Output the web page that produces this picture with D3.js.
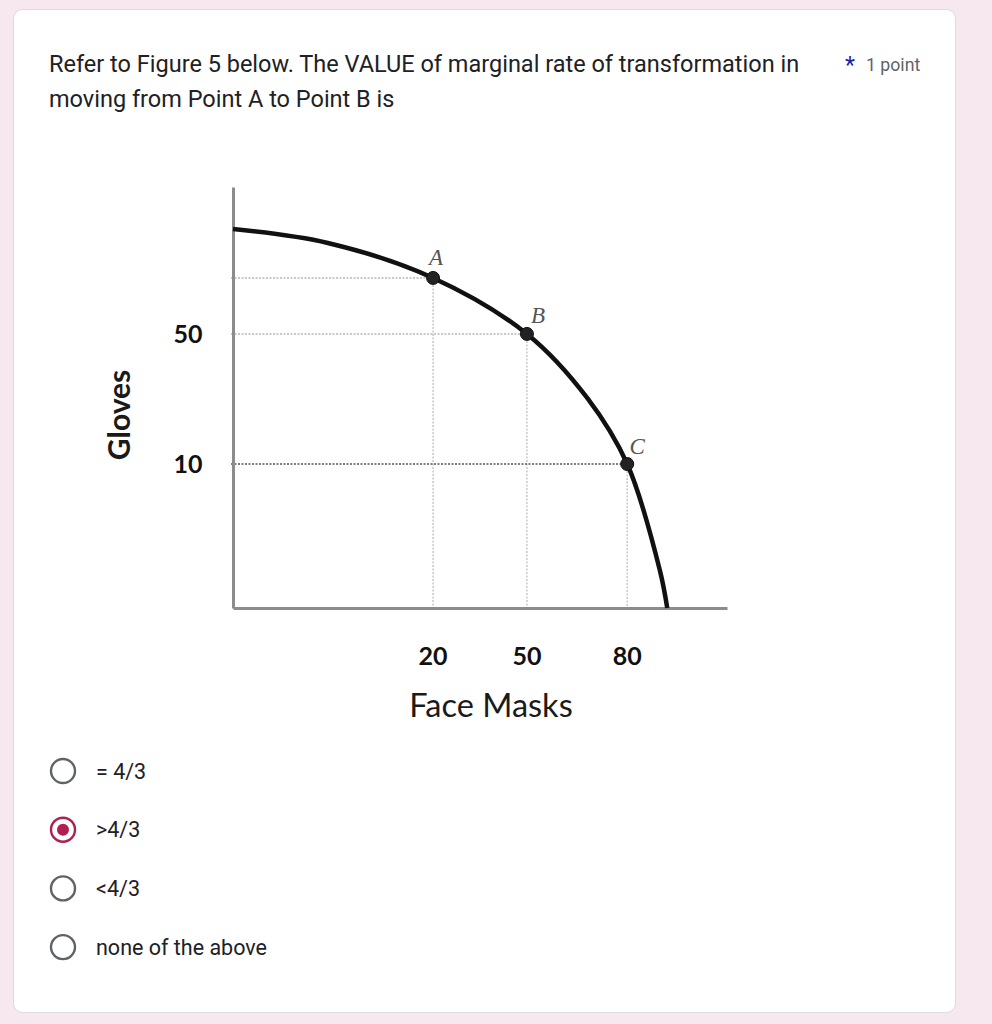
<!DOCTYPE html>
<html>
<head>
<meta charset="utf-8">
<script src="https://cdn.jsdelivr.net/npm/d3@7"></script>
<style>
  html, body { margin: 0; padding: 0; background: #f6e8ee; }
  svg { display: block; }
</style>
</head>
<body>
<svg id="page" width="992" height="1024"></svg>
<script>
// ---- data (figure units: both axes run 0..100 along the drawn axes) ----
const curveX = [0, 19.2, 40.5, 59.5, 71.7, 79.8, 86.4, 87.9];
const curveY = [90.0, 86.7, 78.4, 65.1, 49.9, 34.2, 9.0, 0];
const pointNames = ["A", "B", "C"];
const pointX = [40.5, 59.5, 79.8];
const pointY = [78.4, 65.1, 34.2];
const xTickLabels = ["20", "50", "80"];   // at A, B, C
const yTickLabels = ["", "50", "10"];     // at A, B, C
const xAxisTitle = "Face Masks";
const yAxisTitle = "Gloves";
const questionLines = ["Refer to Figure 5 below. The VALUE of marginal rate of transformation in",
                       "moving from Point A to Point B is"];
const pointsText = "1 point";
const options = ["= 4/3", ">4/3", "<4/3", "none of the above"];
const selectedOption = 1;

// ---- page ----
const svg = d3.select("#page");
svg.append("rect").attr("x", 13.5).attr("y", 9.5).attr("width", 942).attr("height", 1003)
  .attr("rx", 9).attr("fill", "#fff").attr("stroke", "#dadce0").attr("stroke-width", 1);

const title = svg.append("g").attr("font-family", "Roboto").attr("font-size", 23.5).attr("fill", "#202124");
questionLines.forEach((t, i) => {
  title.append("text").attr("x", 49).attr("y", 72 + i * 35).text(t);
});
svg.append("text").attr("x", 845).attr("y", 73).attr("font-family", "Roboto").attr("font-size", 23)
  .attr("fill", "#1a1ea8").text("*");
svg.append("text").attr("x", 866).attr("y", 71).attr("font-family", "Roboto").attr("font-size", 17.7)
  .attr("fill", "#5f6368").text(pointsText);

// ---- chart ----
const x = d3.scaleLinear().domain([0, 100]).range([233, 727]);
const y = d3.scaleLinear().domain([0, 100]).range([608, 187]);
const chart = svg.append("g");

// guide lines
pointX.forEach((px, i) => {
  chart.append("line").attr("x1", x(0) - 2).attr("x2", x(px)).attr("y1", y(pointY[i])).attr("y2", y(pointY[i]))
    .attr("stroke", i === 2 ? "#555" : "#b5b5b5").attr("stroke-width", 1.4).attr("stroke-dasharray", "2,1.5");
  chart.append("line").attr("x1", x(px)).attr("x2", x(px)).attr("y1", y(pointY[i])).attr("y2", y(0))
    .attr("stroke", "#c4c4c4").attr("stroke-width", 1.4).attr("stroke-dasharray", "2,1.5");
});

// axes
const xAxis = d3.axisBottom(x).tickValues([]).tickSizeOuter(0);
const yAxis = d3.axisLeft(y).tickValues([]).tickSizeOuter(0);
chart.append("g").attr("transform", `translate(0,${y(0)})`).call(xAxis)
  .select(".domain").attr("stroke", "#8c8c8c").attr("stroke-width", 3);
chart.append("g").attr("transform", `translate(${x(0)},0)`).call(yAxis)
  .select(".domain").attr("stroke", "#8c8c8c").attr("stroke-width", 3);

// curve
const line = d3.line().x((d, i) => x(curveX[i])).y((d, i) => y(curveY[i])).curve(d3.curveCatmullRom.alpha(0.5));
chart.append("path").datum(curveX).attr("d", line).attr("fill", "none")
  .attr("stroke", "#111").attr("stroke-width", 4.5).attr("stroke-linecap", "butt");

// points
chart.selectAll("circle.pt").data(pointNames).join("circle").attr("class", "pt")
  .attr("cx", (d, i) => x(pointX[i])).attr("cy", (d, i) => y(pointY[i])).attr("r", 6.5)
  .attr("fill", "#222").attr("stroke", "#111").attr("stroke-width", 1);
chart.selectAll("text.pn").data(pointNames).join("text").attr("class", "pn")
  .attr("x", (d, i) => x(pointX[i]) + [3, 11, 10][i]).attr("y", (d, i) => y(pointY[i]) - [13, 11, 10][i])
  .attr("text-anchor", "middle").attr("font-family", "Liberation Serif").attr("font-style", "italic")
  .attr("font-size", 23).attr("fill", "#555").text(d => d);

// tick labels
chart.selectAll("text.xt").data(xTickLabels).join("text").attr("class", "xt")
  .attr("x", (d, i) => x(pointX[i])).attr("y", 665).attr("text-anchor", "middle")
  .attr("font-family", "Lato").attr("font-weight", "bold").attr("font-size", 25).attr("fill", "#111").text(d => d);
chart.selectAll("text.yt").data(yTickLabels).join("text").attr("class", "yt")
  .attr("x", 188).attr("y", (d, i) => y(pointY[i]) + 9).attr("text-anchor", "middle")
  .attr("font-family", "Lato").attr("font-weight", "bold").attr("font-size", 25).attr("fill", "#111").text(d => d);

// axis titles
chart.append("text").attr("x", 491).attr("y", 717).attr("text-anchor", "middle")
  .attr("font-family", "Lato").attr("font-size", 32.5).attr("fill", "#1a1a1a").text(xAxisTitle);
chart.append("text").attr("transform", "translate(130,415) rotate(-90)").attr("text-anchor", "middle")
  .attr("font-family", "Lato").attr("font-weight", "bold").attr("font-size", 30).attr("fill", "#1a1a1a").text(yAxisTitle);

// ---- options ----
const opt = svg.append("g");
options.forEach((t, i) => {
  const cy = 771 + i * 58.7;
  const sel = i === selectedOption;
  opt.append("circle").attr("cx", 63).attr("cy", cy).attr("r", 12).attr("fill", "none")
    .attr("stroke", sel ? "#b0204f" : "#5f6368").attr("stroke-width", 2.4);
  if (sel) opt.append("circle").attr("cx", 63).attr("cy", cy).attr("r", 6).attr("fill", "#b0204f");
  opt.append("text").attr("x", 96).attr("y", cy + 7.5).attr("font-family", "Roboto").attr("font-size", 21.5)
    .attr("fill", "#202124").text(t);
});
</script>
</body>
</html>
